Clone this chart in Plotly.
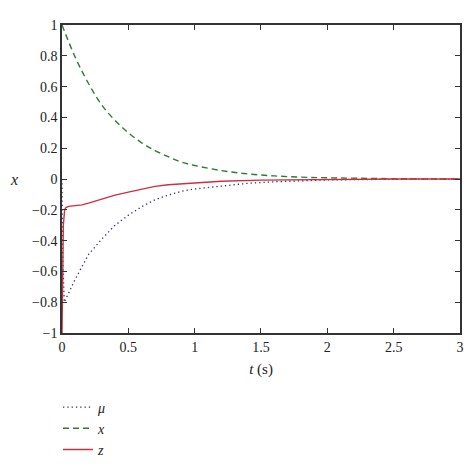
import plotly.graph_objects as go

# values
t_x = [0, 0.1, 0.2, 0.3, 0.4, 0.5, 0.6, 0.7, 0.8, 0.9, 1.0, 1.2, 1.4, 1.6, 1.8, 2.0, 2.5, 3.0]
x_vals = [1.0, 0.79, 0.62, 0.48, 0.38, 0.30, 0.235, 0.185, 0.145, 0.11, 0.088,
          0.055, 0.033, 0.02, 0.012, 0.008, 0.002, 0.0]

t_mu = [0, 0.005, 0.017, 0.05, 0.1, 0.2, 0.3, 0.4, 0.5, 0.6, 0.7, 0.8, 0.9, 1.0,
        1.2, 1.4, 1.6, 1.8, 2.0, 2.5, 3.0]
mu_vals = [0, -0.5, -0.80, -0.74, -0.65, -0.49, -0.39, -0.30, -0.235, -0.18, -0.135,
           -0.105, -0.08, -0.065, -0.045, -0.028, -0.018, -0.01, -0.006, -0.002, 0.0]

t_z = [0, 0.005, 0.01, 0.02, 0.03, 0.05, 0.1, 0.15, 0.2, 0.3, 0.4, 0.5, 0.6, 0.7,
       0.8, 1.0, 1.2, 1.5, 2.0, 2.5, 3.0]
z_vals = [-1.0, -0.6, -0.3, -0.2, -0.185, -0.178, -0.175, -0.168, -0.157, -0.13,
          -0.105, -0.085, -0.065, -0.048, -0.037, -0.025, -0.015, -0.007, -0.002, 0.0, 0.0]

x_ticks = [0, 0.5, 1, 1.5, 2, 2.5, 3]
y_ticks = [-1, -0.8, -0.6, -0.4, -0.2, 0, 0.2, 0.4, 0.6, 0.8, 1]

FONT = "Liberation Serif, Times New Roman, serif"

fig = go.Figure()
fig.add_trace(go.Scatter(
    x=t_mu, y=mu_vals, mode="lines", name="<i>μ</i>",
    line=dict(color="#2c3070", width=1.3, dash="1.3px,3px"),
))
fig.add_trace(go.Scatter(
    x=t_x, y=x_vals, mode="lines", name="<i>x</i>", line_shape="spline",
    line=dict(color="#2f7a37", width=1.4, dash="6px,4px"),
))
fig.add_trace(go.Scatter(
    x=t_z, y=z_vals, mode="lines", name="<i>z</i>",
    line=dict(color="#cc3040", width=1.4),
))

axis_common = dict(
    showgrid=False, zeroline=False, showline=True, linecolor="#333", linewidth=1.5,
    mirror="ticks", ticks="inside", ticklen=5, tickcolor="#333",
    tickfont=dict(family=FONT, size=14, color="#222"),
)
fig.update_xaxes(range=[0, 3.0001], tickvals=x_ticks, ticktext=[str(v) for v in x_ticks],
                 title=dict(text="<i>t</i> (s)", font=dict(family=FONT, size=15, color="#222"),
                            standoff=10),
                 **axis_common)
fig.update_yaxes(range=[-1, 1], tickvals=y_ticks,
                 ticktext=[("−" + str(abs(v)) if v < 0 else str(v)) for v in y_ticks],
                 **axis_common)

fig.add_annotation(text="<i>x</i>", xref="paper", yref="paper", x=-0.135, y=0.5,
                   showarrow=False, font=dict(family=FONT, size=16, color="#222"))

# page body has an 8px margin: keep the figure inside the visible window
fig.update_layout(
    width=458, height=458,
    margin=dict(l=54, r=6, t=17, b=133, autoexpand=False),
    plot_bgcolor="white", paper_bgcolor="white",
    legend=dict(x=-0.01, y=-0.19, xanchor="left", yanchor="top",
                font=dict(family=FONT, size=14, color="#222"),
                tracegroupgap=0, itemwidth=30),
)

fig.write_html("out.html")
